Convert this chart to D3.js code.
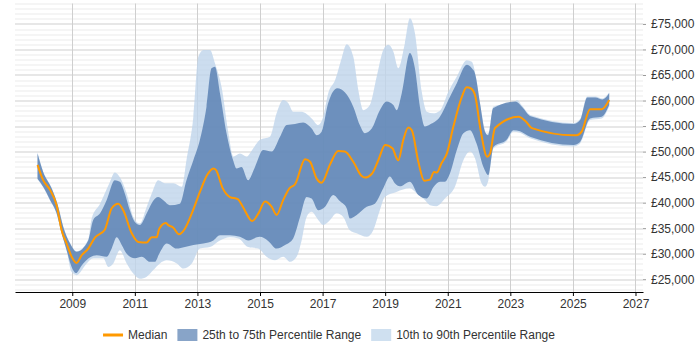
<!DOCTYPE html>
<meta charset="utf-8">

<!-- Load d3.js -->
<script src="https://d3js.org/d3.v7.min.js"></script>

<style>
    body {
        margin: 0;
        background-color: #fff;
    }
    text {
        font-family: "Liberation Sans", Arial, sans-serif;
        font-size: 12px;
        fill: #333;
    }
</style>

<body>
</body>

<script>
    // Years are decimal years, values are salaries in GBP
    var medianYears = [2007.89, 2008.07, 2008.29, 2008.50, 2008.66, 2008.82, 2008.98, 2009.14, 2009.30, 2009.51,
        2009.73, 2010.04, 2010.26, 2010.47, 2010.63, 2010.90, 2011.11, 2011.38, 2011.54, 2011.70,
        2011.78, 2011.99, 2012.07, 2012.23, 2012.41, 2012.60, 2012.82, 2013.08, 2013.31, 2013.51,
        2013.59, 2013.81, 2014.04, 2014.29, 2014.45, 2014.75, 2014.95, 2015.16, 2015.37, 2015.53,
        2015.74, 2015.94, 2016.12, 2016.44, 2016.60, 2016.81, 2016.97, 2017.24, 2017.50, 2017.71,
        2017.98, 2018.25, 2018.35, 2018.57, 2018.78, 2019.00, 2019.24, 2019.35, 2019.42, 2019.58,
        2019.74, 2019.85, 2020.06, 2020.25, 2020.43, 2020.56, 2020.65, 2020.80, 2020.97, 2021.18,
        2021.45, 2021.60, 2021.73, 2021.87, 2022.05, 2022.26, 2022.35, 2022.51, 2023.26, 2023.48,
        2023.69, 2025.01, 2025.12, 2025.28, 2025.55, 2025.92, 2026.16];
    var medianValues = [47400, 44400, 42500, 39500, 34600, 32000, 29400, 28200, 29700, 31000,
        33200, 34700, 38900, 39800, 38500, 34000, 32300, 32200, 33200, 33200,
        34900, 36000, 35600, 35100, 33800, 34900, 37900, 42100, 45400, 46700,
        46400, 42800, 41100, 40700, 39200, 36400, 37900, 40200, 39200, 37600,
        40500, 42800, 43600, 48500, 48000, 44700, 43900, 47500, 50100, 50000,
        48000, 45200, 44900, 45600, 48300, 51300, 50600, 48900, 48300, 52300,
        54700, 54200, 48000, 44300, 44500, 46000, 45900, 47700, 49600, 54900,
        60700, 62600, 62400, 61100, 54200, 49000, 49600, 54600, 56800, 56000,
        54600, 53200, 53200, 53900, 58300, 58300, 60100];

    var p75Years = [2007.89, 2008.07, 2008.34, 2008.55, 2008.71, 2008.93, 2009.14, 2009.51, 2009.67, 2009.89,
        2010.10, 2010.36, 2010.52, 2010.68, 2010.84, 2011.00, 2011.16, 2011.38, 2011.53, 2011.74,
        2011.90, 2012.12, 2012.44, 2012.65, 2012.87, 2013.08, 2013.29, 2013.45, 2013.56, 2013.72,
        2013.93, 2014.14, 2014.25, 2014.41, 2014.62, 2014.84, 2015.10, 2015.37, 2015.64, 2015.85,
        2016.12, 2016.38, 2016.65, 2016.81, 2016.97, 2017.18, 2017.47, 2017.71, 2017.98, 2018.19,
        2018.35, 2018.57, 2018.83, 2019.05, 2019.26, 2019.37, 2019.53, 2019.79, 2019.95, 2020.11,
        2020.27, 2020.43, 2020.75, 2021.02, 2021.29, 2021.61, 2021.77, 2021.87, 2022.03, 2022.19,
        2022.29, 2022.45, 2023.16, 2023.37, 2023.65, 2025.02, 2025.23, 2025.46, 2025.71, 2025.95,
        2026.16];
    var p75Values = [49600, 46000, 42800, 39200, 35300, 32000, 30400, 32600, 36600, 37900,
        40500, 44400, 44100, 41800, 38500, 36200, 35600, 37900, 39800, 41100,
        40500, 39500, 39800, 44400, 48300, 52300, 58800, 66300, 66600, 61400,
        53600, 48300, 46700, 47000, 44400, 47000, 50300, 50000, 52900, 55200,
        55400, 55700, 54500, 53200, 53900, 59500, 62400, 61600, 58800, 55200,
        53600, 54500, 58100, 59800, 59100, 58100, 61400, 69300, 66300, 58800,
        54900, 55300, 56800, 60100, 63400, 67000, 66300, 65300, 59500, 53900,
        53200, 58500, 59800, 58800, 56900, 55400, 56200, 60600, 60600, 60200,
        61400];

    var p25Years = [2007.89, 2008.07, 2008.29, 2008.50, 2008.66, 2008.82, 2008.98, 2009.12, 2009.30, 2009.57,
        2009.78, 2010.10, 2010.26, 2010.42, 2010.58, 2010.74, 2011.00, 2011.22, 2011.48, 2011.64,
        2011.78, 2012.02, 2012.33, 2012.60, 2012.87, 2013.19, 2013.51, 2013.72, 2014.04, 2014.36,
        2014.62, 2014.99, 2015.26, 2015.53, 2015.80, 2016.06, 2016.28, 2016.49, 2016.65, 2016.86,
        2017.08, 2017.34, 2017.55, 2017.77, 2017.87, 2018.09, 2018.41, 2018.67, 2018.94, 2019.15,
        2019.31, 2019.47, 2019.79, 2020.06, 2020.33, 2020.54, 2020.75, 2020.91, 2021.07, 2021.29,
        2021.50, 2021.71, 2021.92, 2022.14, 2022.30, 2022.46, 2022.88, 2023.10, 2023.31, 2023.63,
        2025.02, 2025.23, 2025.55, 2025.92, 2026.16];
    var p25Values = [44700, 43100, 40500, 37900, 34000, 30700, 27400, 26200, 27700, 29300,
        29700, 29400, 31000, 33200, 31700, 30000, 29100, 29400, 28400, 28400,
        30000, 32000, 31000, 31300, 31700, 32000, 32600, 33600, 33600, 33300,
        32600, 33300, 32500, 31000, 31700, 33000, 37200, 41100, 40800, 38500,
        39200, 41500, 40300, 38900, 36900, 37600, 39200, 39800, 42800, 45100,
        43800, 43200, 44100, 41500, 40800, 43000, 44100, 44100, 45700, 50300,
        53600, 54200, 51600, 47000, 45400, 50900, 52300, 54200, 54000, 52900,
        51300, 51900, 56500, 56800, 59100];

    var p90Years = [2007.89, 2008.07, 2008.34, 2008.55, 2008.71, 2008.93, 2009.14, 2009.51, 2009.62, 2009.89,
        2010.20, 2010.36, 2010.47, 2010.74, 2010.95, 2011.16, 2011.38, 2011.54, 2011.75, 2011.96,
        2012.23, 2012.50, 2012.65, 2012.87, 2013.03, 2013.19, 2013.40, 2013.56, 2013.77, 2013.99,
        2014.15, 2014.36, 2014.57, 2014.78, 2015.00, 2015.32, 2015.53, 2015.74, 2015.90, 2016.06,
        2016.33, 2016.65, 2016.86, 2017.02, 2017.18, 2017.40, 2017.61, 2017.77, 2017.98, 2018.14,
        2018.30, 2018.51, 2018.73, 2018.94, 2019.10, 2019.26, 2019.42, 2019.63, 2019.79, 2019.95,
        2020.17, 2020.33, 2020.54, 2020.75, 2021.02, 2021.29, 2021.61, 2021.77, 2021.92, 2022.08,
        2022.24, 2022.35, 2022.45, 2023.16, 2023.21, 2023.37, 2023.65, 2025.02, 2025.23, 2025.46,
        2025.71, 2025.95, 2026.16];
    var p90Values = [49800, 46100, 42900, 39300, 35400, 32100, 30500, 32800, 36900, 39800,
        44000, 45900, 45400, 41800, 37200, 35900, 39200, 41800, 44400, 43800,
        43800, 43100, 48300, 56800, 68600, 69900, 69900, 67300, 62700, 53600,
        49000, 49600, 49000, 50600, 52300, 52900, 57500, 60100, 59500, 57800,
        57800, 56500, 55200, 56800, 61400, 64000, 68300, 71000, 68600, 62100,
        58100, 59100, 64700, 69900, 70900, 69600, 66300, 71200, 76100, 73200,
        61700, 57800, 57500, 58000, 61700, 64700, 67900, 67600, 64000, 57500,
        53500, 54200, 58800, 59800, 60100, 59000, 57100, 55600, 56400, 60800,
        60800, 60400, 61600];

    var p10Years = [2007.89, 2008.07, 2008.29, 2008.50, 2008.66, 2008.82, 2008.98, 2009.14, 2009.46, 2009.67,
        2009.99, 2010.15, 2010.31, 2010.52, 2010.74, 2010.95, 2011.16, 2011.38, 2011.59, 2011.80,
        2012.02, 2012.34, 2012.55, 2012.82, 2013.08, 2013.40, 2013.72, 2014.04, 2014.31, 2014.62,
        2014.94, 2015.21, 2015.48, 2015.74, 2015.96, 2016.17, 2016.33, 2016.49, 2016.65, 2016.86,
        2017.02, 2017.24, 2017.45, 2017.66, 2017.87, 2018.09, 2018.41, 2018.62, 2018.83, 2018.99,
        2019.36, 2019.79, 2020.01, 2020.27, 2020.43, 2020.64, 2020.91, 2021.23, 2021.50, 2021.71,
        2021.87, 2022.08, 2022.19, 2022.30, 2022.46, 2022.88, 2023.10, 2023.31, 2023.63, 2025.02,
        2025.23, 2025.55, 2025.92, 2026.16];
    var p10Values = [44600, 43000, 40400, 37800, 33900, 30600, 26400, 25800, 28100, 29100,
        29100, 27400, 28100, 30700, 28100, 26100, 25100, 25500, 26800, 28100,
        28700, 28100, 27100, 28100, 31000, 31300, 32600, 33200, 33000, 31300,
        31000, 29400, 28700, 29400, 28400, 29400, 32600, 37200, 38200, 36600,
        35600, 36600, 37900, 37200, 34600, 34000, 33300, 34600, 38500, 41100,
        42100, 42800, 41800, 40500, 39500, 39300, 40800, 43100, 48300, 50000,
        48700, 43800, 43100, 44400, 50600, 52000, 53900, 53700, 52600, 51000,
        51600, 56200, 56500, 58900];

    // tick labels
    var xTicks = [2009, 2011, 2013, 2015, 2017, 2019, 2021, 2023, 2025, 2027];
    var yTicks = [25000, 30000, 35000, 40000, 45000, 50000, 55000, 60000, 65000, 70000, 75000];
    var legendLabels = ["Median", "25th to 75th Percentile Range", "10th to 90th Percentile Range"];

    var margin = {top: 3.5, right: 57, bottom: 58, left: 15},
        width = 700 - margin.left - margin.right,
        height = 350 - margin.top - margin.bottom;

    var svg = d3.select("body")
            .append("svg")
                .attr("width", 700)
                .attr("height", 350);

    var g = svg.append("g")
            .attr("transform", "translate(" + margin.left + "," + margin.top + ")");

    var x = d3.scaleLinear().domain([2007.17, 2027.24]).range([0, width]);
    var y = d3.scaleLinear().domain([22500, 79000]).range([height, 0]);

    // horizontal grid, thin lines every 1000 and stronger every 5000
    g.append("g")
        .selectAll("line")
        .data(d3.range(23000, 79001, 1000))
        .enter()
        .append("line")
            .attr("x1", 0)
            .attr("x2", width)
            .attr("y1", function(d) { return Math.round(y(d)) + 0.5; })
            .attr("y2", function(d) { return Math.round(y(d)) + 0.5; })
            .attr("stroke", function(d) { return d % 5000 == 0 ? "#cfcfcf" : "#ebebeb"; });

    // vertical grid at the labelled years
    g.append("g")
        .selectAll("line")
        .data(xTicks)
        .enter()
        .append("line")
            .attr("x1", function(d) { return Math.round(x(d)) + 0.5; })
            .attr("x2", function(d) { return Math.round(x(d)) + 0.5; })
            .attr("y1", 0)
            .attr("y2", height)
            .attr("stroke", "#cfcfcf");

    function points(years, values) {
        return years.map(function(t, i) { return [x(t), y(values[i])]; });
    }

    var line = d3.line().curve(d3.curveMonotoneX);

    // band = upper edge left to right, then lower edge right to left
    function bandPath(upYears, upValues, lowYears, lowValues) {
        var upper = line(points(upYears, upValues));
        var lower = line(points(lowYears, lowValues).reverse());
        return upper + "L" + lower.slice(1) + "Z";
    }

    var lightFill = "#bfd5eb",
        darkFill = "#557db0",
        medianColor = "#ff9900";

    g.append("path")
        .attr("d", bandPath(p90Years, p90Values, p10Years, p10Values))
        .attr("fill", lightFill)
        .attr("fill-opacity", 0.8);

    g.append("path")
        .attr("d", bandPath(p75Years, p75Values, p25Years, p25Values))
        .attr("fill", darkFill)
        .attr("fill-opacity", 0.8);

    g.append("path")
        .attr("d", line(points(medianYears, medianValues)))
        .attr("fill", "none")
        .attr("stroke", medianColor)
        .attr("stroke-width", 2);

    // x axis
    var xAxis = g.append("g")
        .attr("transform", "translate(0," + height + ")")
        .call(d3.axisBottom(x).tickValues(xTicks).tickFormat(d3.format("d")).tickSize(4).tickSizeOuter(0));
    xAxis.selectAll("text").attr("font-size", 12).attr("fill", "#333").attr("font-family", null);
    xAxis.select(".domain").attr("stroke", "#000");
    xAxis.selectAll(".tick line").attr("stroke", "#000");

    // y axis on the right
    var yAxis = g.append("g")
        .attr("transform", "translate(" + width + ",0)")
        .call(d3.axisRight(y).tickValues(yTicks)
            .tickFormat(function(d) { return "£" + d3.format(",")(d); })
            .tickSize(3).tickPadding(5));
    yAxis.select(".domain").remove();
    yAxis.selectAll(".tick line").attr("stroke", "#999");
    yAxis.selectAll("text").attr("font-size", 12).attr("fill", "#333").attr("font-family", null);

    // legend, centred under the plot
    var legend = svg.append("g").attr("transform", "translate(0,335)");
    var items = legend.selectAll("g")
        .data(legendLabels)
        .enter()
        .append("g");

    items.each(function(d, i) {
        var item = d3.select(this);
        if (i == 0) {
            item.append("line")
                .attr("x1", 0).attr("x2", 20)
                .attr("y1", 0).attr("y2", 0)
                .attr("stroke", medianColor)
                .attr("stroke-width", 3);
        } else {
            item.append("rect")
                .attr("x", 0).attr("y", -6)
                .attr("width", 20).attr("height", 12)
                .attr("fill", i == 1 ? darkFill : lightFill)
                .attr("fill-opacity", i == 1 ? 0.7 : 0.75);
        }
        item.append("text")
            .attr("x", 25)
            .attr("dy", "0.35em")
            .text(d);
    });

    var offsets = [], total = 0;
    items.each(function(d, i) {
        var w = 25 + this.querySelector("text").getComputedTextLength();
        offsets.push(total);
        total += w + (i < legendLabels.length - 1 ? 10 : 0);
    });
    var startX = margin.left + width / 2 - total / 2;
    items.attr("transform", function(d, i) { return "translate(" + (startX + offsets[i]) + ",0)"; });

</script>
